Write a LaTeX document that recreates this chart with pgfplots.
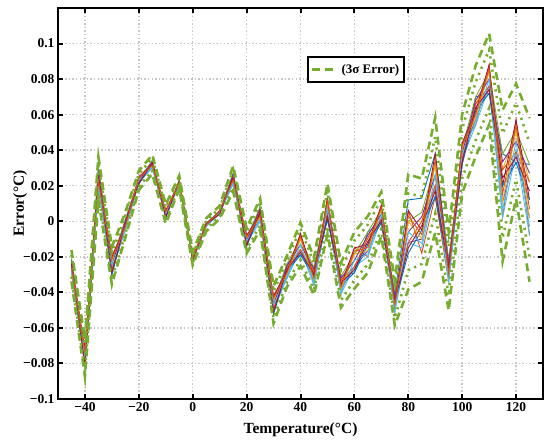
\documentclass[border=0pt]{standalone}
\usepackage{pgfplots}
\pgfplotsset{compat=1.18}
\usepackage{pgfplotstable}
\usepackage{fontspec}
\setmainfont{Liberation Serif}
\definecolor{mblue}{rgb}{0,0.447,0.741}
\definecolor{morange}{rgb}{0.85,0.325,0.098}
\definecolor{myellow}{rgb}{0.929,0.694,0.125}
\definecolor{mpurple}{rgb}{0.494,0.184,0.556}
\definecolor{mgreen}{rgb}{0.466,0.674,0.188}
\definecolor{mcyan}{rgb}{0.301,0.745,0.933}
\definecolor{mred}{rgb}{0.635,0.078,0.184}
\pgfplotstableread{
T c1 c2 c3 c4 c5 c6 c7 c8 c9 c10 c11 c12 c13 c14 up lo upb lob
-45 -0.021 -0.029 -0.023 -0.027 -0.021 -0.029 -0.025 -0.025 -0.023 -0.027 -0.022 -0.028 -0.024 -0.026 -0.0162 -0.0338 -0.0188 -0.0312
-40 -0.082 -0.072 -0.0745 -0.0795 -0.0745 -0.0795 -0.072 -0.082 -0.0795 -0.0745 -0.077 -0.077 -0.0808 -0.0732 -0.0665 -0.0875 -0.0695 -0.0845
-35 0.030 0.018 0.027 0.021 0.030 0.018 0.024 0.024 0.027 0.021 0.0285 0.0195 0.0255 0.0225 0.0362 0.0118 0.0328 0.0152
-30 -0.030 -0.020 -0.0225 -0.0275 -0.0225 -0.0275 -0.020 -0.030 -0.0275 -0.0225 -0.025 -0.025 -0.0288 -0.0212 -0.0145 -0.0355 -0.0175 -0.0325
-25 0.001 -0.005 -0.0005 -0.0035 0.001 -0.005 -0.002 -0.002 -0.0005 -0.0035 0.0003 -0.0043 -0.0012 -0.0028 0.0051 -0.0091 0.0029 -0.0069
-20 0.021 0.025 0.024 0.022 0.024 0.022 0.025 0.021 0.022 0.024 0.023 0.023 0.0215 0.0245 0.0284 0.0176 0.0266 0.0194
-15 0.034 0.030 0.033 0.031 0.034 0.030 0.032 0.032 0.033 0.031 0.0335 0.0305 0.0325 0.0315 0.0374 0.0266 0.0356 0.0284
-10 0.002 0.006 0.005 0.003 0.005 0.003 0.006 0.002 0.003 0.005 0.004 0.004 0.0025 0.0055 0.0094 -0.0014 0.0076 0.0004
-5 0.023 0.021 0.0225 0.0215 0.023 0.021 0.022 0.022 0.0225 0.0215 0.0228 0.0212 0.0222 0.0218 0.0257 0.0183 0.0243 0.0197
0 -0.022 -0.020 -0.0205 -0.0215 -0.0205 -0.0215 -0.020 -0.022 -0.0215 -0.0205 -0.021 -0.021 -0.0218 -0.0202 -0.0173 -0.0247 -0.0187 -0.0233
5 -0.001 -0.003 -0.0015 -0.0025 -0.001 -0.003 -0.002 -0.002 -0.0015 -0.0025 -0.0012 -0.0028 -0.0018 -0.0022 0.0017 -0.0057 0.0003 -0.0043
10 0.004 0.006 0.0055 0.0045 0.0055 0.0045 0.006 0.004 0.0045 0.0055 0.005 0.005 0.0042 0.0058 0.0087 0.0013 0.0073 0.0027
15 0.027 0.021 0.0255 0.0225 0.027 0.021 0.024 0.024 0.0255 0.0225 0.0263 0.0217 0.0248 0.0232 0.0311 0.0169 0.0289 0.0191
20 -0.014 -0.008 -0.0095 -0.0125 -0.0095 -0.0125 -0.008 -0.014 -0.0125 -0.0095 -0.011 -0.011 -0.0133 -0.0087 -0.0039 -0.0181 -0.0061 -0.0159
25 0.008 0.000 0.006 0.002 0.008 0.000 0.004 0.004 0.006 0.002 0.007 0.001 0.005 0.003 0.0128 -0.0048 0.0102 -0.0022
30 -0.052 -0.042 -0.0445 -0.0495 -0.0445 -0.0495 -0.042 -0.052 -0.0495 -0.0445 -0.047 -0.047 -0.0508 -0.0432 -0.0365 -0.0575 -0.0395 -0.0545
35 -0.024 -0.032 -0.026 -0.030 -0.024 -0.032 -0.028 -0.028 -0.026 -0.030 -0.025 -0.031 -0.027 -0.029 -0.0192 -0.0368 -0.0218 -0.0342
40 -0.019 -0.007 -0.010 -0.016 -0.010 -0.016 -0.007 -0.019 -0.016 -0.010 -0.013 -0.013 -0.0175 -0.0085 -0.0008 -0.0252 -0.0042 -0.0218
45 -0.026 -0.036 -0.0285 -0.0335 -0.026 -0.036 -0.031 -0.031 -0.0285 -0.0335 -0.0272 -0.0348 -0.0298 -0.0322 -0.0205 -0.0415 -0.0235 -0.0385
50 0.001 0.013 0.010 0.004 0.010 0.004 0.013 0.001 0.004 0.010 0.007 0.007 0.0025 0.0115 0.0212 -0.0072 0.0168 -0.0028
55 -0.031 -0.041 -0.0335 -0.0385 -0.031 -0.041 -0.036 -0.036 -0.0335 -0.0385 -0.0322 -0.0398 -0.0348 -0.0372 -0.0235 -0.0485 -0.0275 -0.0445
60 -0.029 -0.015 -0.0185 -0.0255 -0.0185 -0.0255 -0.015 -0.029 -0.0255 -0.0185 -0.022 -0.022 -0.0273 -0.0168 -0.0061 -0.0379 -0.0109 -0.0331
65 -0.006 -0.020 -0.0095 -0.0165 -0.006 -0.020 -0.013 -0.013 -0.0095 -0.0165 -0.0078 -0.0183 -0.0113 -0.0148 0.0029 -0.0289 -0.0019 -0.0241
70 -0.001 0.009 0.0065 0.0015 0.0065 0.0015 0.009 -0.001 0.0015 0.0065 0.004 0.004 0.0003 0.0078 0.0165 -0.0085 0.0125 -0.0045
75 -0.041 -0.051 -0.0435 -0.0485 -0.041 -0.051 -0.046 -0.046 -0.0435 -0.0485 -0.0422 -0.0498 -0.0448 -0.0472 -0.0335 -0.0585 -0.0375 -0.0545
80 0.012 0.006 0.000 -0.012 0.000 -0.012 0.006 -0.018 -0.012 0.000 -0.006 -0.006 -0.015 0.003 0.0264 -0.0384 0.0156 -0.0276
85 0.013 -0.018 0.000 -0.010 0.005 -0.015 -0.005 -0.005 0.000 -0.010 0.0025 -0.0125 -0.0025 -0.0075 0.024 -0.034 0.014 -0.024
90 0.038 0.014 0.032 0.020 0.032 0.020 0.038 0.014 0.020 0.032 0.026 0.026 0.017 0.035 0.0584 -0.0064 0.0476 0.0044
95 -0.022 -0.034 -0.025 -0.031 -0.022 -0.034 -0.028 -0.028 -0.025 -0.031 -0.0235 -0.0325 -0.0265 -0.0295 -0.0058 -0.0502 -0.0142 -0.0418
100 0.032 0.044 0.041 0.035 0.041 0.035 0.044 0.032 0.035 0.041 0.038 0.038 0.0335 0.0425 0.0602 0.0158 0.0518 0.0242
105 0.070 0.054 0.066 0.058 0.070 0.054 0.062 0.062 0.066 0.058 0.068 0.056 0.064 0.060 0.0876 0.0364 0.0784 0.0456
110 0.072 0.088 0.084 0.076 0.084 0.076 0.088 0.072 0.076 0.084 0.080 0.080 0.074 0.086 0.1056 0.0544 0.0964 0.0636
115 0.038 0.002 0.029 0.011 0.038 0.002 0.020 0.020 0.029 0.011 0.0335 0.0065 0.0245 0.0155 0.0626 -0.0226 0.0494 -0.0094
120 0.033 0.057 0.051 0.039 0.051 0.039 0.057 0.033 0.039 0.051 0.045 0.045 0.036 0.054 0.0774 0.0126 0.0666 0.0234
125 0.032 -0.008 0.022 0.002 0.032 -0.008 0.012 0.012 0.022 0.002 0.027 -0.003 0.017 0.007 0.058 -0.034 0.044 -0.020
}\data
\begin{document}
\begin{tikzpicture}
\path[use as bounding box] (-58pt,-47pt) rectangle (492pt,399pt);
\begin{axis}[
  scale only axis, width=485pt, height=391pt,
  xmin=-50, xmax=130, ymin=-0.1, ymax=0.12,
  xtick={-40,-20,0,20,40,60,80,100,120},
  xticklabels={−40,−20,0,20,40,60,80,100,120},
  ytick={-0.1,-0.08,-0.06,-0.04,-0.02,0,0.02,0.04,0.06,0.08,0.1},
  yticklabels={−0.1,−0.08,−0.06,−0.04,−0.02,0,0.02,0.04,0.06,0.08,0.1},
  ticklabel style={font=\bfseries\fontsize{13.5}{15}\selectfont},
  axis line style={line width=2.2pt},
  every tick/.style={black, line width=2pt},
  major tick length=5pt, tick align=inside,
  grid=major,
  grid style={color=black!22, line width=1.4pt, dash pattern=on 1.4pt off 2.2pt},
  xlabel={Temperature(°C)}, ylabel={Error(°C)},
  label style={font=\bfseries\fontsize{15.5}{18}\selectfont},
  xlabel style={at={(axis description cs:0.5,-0.079)}, anchor=center},
  ylabel style={at={(axis description cs:-0.078,0.5)}, anchor=center},
  legend style={at={(0.513,0.877)}, anchor=north west, draw=black, line width=2.2pt,
    font=\bfseries\fontsize{13}{15}\selectfont, inner xsep=3pt, inner ysep=5pt},
  legend image code/.code={\draw[#1] (0pt,0pt) -- (26pt,0pt);},
]
\addplot[mblue, line width=0.9pt, forget plot] table[x=T,y=c1] {\data};
\addplot[morange, line width=0.9pt, forget plot] table[x=T,y=c2] {\data};
\addplot[myellow, line width=0.9pt, forget plot] table[x=T,y=c3] {\data};
\addplot[mpurple, line width=0.9pt, forget plot] table[x=T,y=c4] {\data};
\addplot[mgreen, line width=0.9pt, forget plot] table[x=T,y=c5] {\data};
\addplot[mcyan, line width=0.9pt, forget plot] table[x=T,y=c6] {\data};
\addplot[mred, line width=0.9pt, forget plot] table[x=T,y=c7] {\data};
\addplot[mblue, line width=0.9pt, forget plot] table[x=T,y=c8] {\data};
\addplot[morange, line width=0.9pt, forget plot] table[x=T,y=c9] {\data};
\addplot[myellow, line width=0.9pt, forget plot] table[x=T,y=c10] {\data};
\addplot[mpurple, line width=0.9pt, forget plot] table[x=T,y=c11] {\data};
\addplot[mcyan, line width=0.9pt, forget plot] table[x=T,y=c12] {\data};
\addplot[mred, line width=0.9pt, forget plot] table[x=T,y=c13] {\data};
\addplot[morange, line width=0.9pt, forget plot] table[x=T,y=c14] {\data};
\addplot[mgreen, line width=2.6pt, dash pattern=on 2.2pt off 4.5pt, forget plot] table[x=T,y=upb] {\data};
\addplot[mgreen, line width=2.6pt, dash pattern=on 2.2pt off 4.5pt, forget plot] table[x=T,y=lob] {\data};
\addplot[mgreen, line width=2.6pt, dash pattern=on 8pt off 5pt] table[x=T,y=up] {\data};
\addlegendentry{(3σ Error)}
\addplot[mgreen, line width=2.6pt, dash pattern=on 8pt off 5pt, forget plot] table[x=T,y=lo] {\data};
\end{axis}
\end{tikzpicture}
\end{document}
